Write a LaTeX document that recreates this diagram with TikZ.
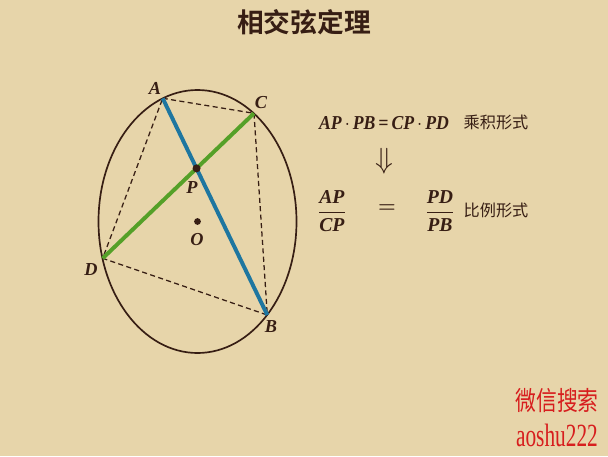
\documentclass[tikz,border=0pt]{standalone}
\usepackage{fontspec}
\setmainfont{Liberation Serif}
\newfontfamily\cjk{Noto Sans CJK SC}
\newfontfamily\cjkbold{Noto Sans CJK SC Bold}
\usepackage{amsmath}
\usetikzlibrary{positioning, calc}

\definecolor{paper}{RGB}{231,213,170}
\definecolor{ink}{RGB}{55,30,20}
\definecolor{chordblue}{RGB}{30,118,160}
\definecolor{chordgreen}{RGB}{85,160,40}
\definecolor{stamp}{RGB}{215,30,30}

\begin{document}
\begin{tikzpicture}[x=0.025cm, y=-0.025cm,
  ptlabel/.style={font=\fontsize{13}{13}\selectfont\itshape\bfseries, text=ink, inner sep=0pt},
  eqtext/.style={font=\fontsize{14}{16}\selectfont, text=ink, inner sep=0pt},
  cntext/.style={font=\cjk\fontsize{11.5}{12}\selectfont, text=ink, inner sep=0pt},
  dashchord/.style={ink, dash pattern=on 3.6pt off 2.4pt, line width=0.9pt},
  redtext/.style={text=stamp, inner sep=0pt}]
% Background
\fill[paper] (0,0) rectangle (608,456);
\useasboundingbox (0,0) rectangle (608,456);

% Title
\node[font=\cjkbold\fontsize{19}{20}\selectfont, text=ink] (title) at (304,22) {相交弦定理};

% Circle and points
\coordinate (O) at (197.5,221.5);
\draw[ink, line width=1.2pt] (O) ellipse [x radius=99, y radius=131.5];
\coordinate (A) at (162.7,98.3);
\coordinate (C) at (254,113.3);
\coordinate (D) at (102.7,258.3);
\coordinate (B) at (267.3,315);
\coordinate (P) at (intersection of A--B and C--D);

% Quadrilateral
\draw[dashchord] (A) -- (C) -- (B) -- (D) -- cycle;

% Chords
\draw[chordblue, line width=2.8pt] (A) -- (B);
\draw[chordgreen, line width=2.8pt] (C) -- (D);
\fill[ink] (P) circle [radius=4];
\fill[ink] (O) circle [radius=3.4];

% Labels
\node[ptlabel] (lA) at (155,88) {A};
\node[ptlabel] (lC) at (261,103) {C};
\node[ptlabel] (lD) at (91,270) {D};
\node[ptlabel] (lB) at (271,327) {B};
\node[ptlabel] (lP) at (192,188) {P};
\node[ptlabel] (lO) at (197,240) {O};

% Product form
\node[eqtext] (prodeq) at (384,123) {\scalebox{0.9}[1]{\itshape\bfseries AP$\,\cdot\,$PB\,=\,CP$\,\cdot\,$PD}};
\node[cntext] (prodlabel) at (496,122) {乘积形式};
\node[eqtext, font=\fontsize{21}{22}\selectfont] (arrowdown) at (384,161) {$\Downarrow$};

% Ratio form
\node[eqtext] (fracleft) at (332,211) {$\dfrac{\textbf{\textit{AP}}}{\textbf{\textit{CP}}}$};
\node[eqtext] (eqsign) at (387,209) {$\boldsymbol{=}$};
\node[eqtext] (fracright) at (440,211) {$\dfrac{\textbf{\textit{PD}}}{\textbf{\textit{PB}}}$};
\node[cntext] (ratiolabel) at (496,210) {比例形式};

% Watermark
\node[redtext, font=\cjk\fontsize{17}{18}\selectfont] (wx) at (557,401) {\scalebox{0.87}[1.1]{微信搜索}};
\node[redtext, font=\fontsize{23}{24}\selectfont] (wid) at (557,435) {\scalebox{0.66}[1]{aoshu222}};
\end{tikzpicture}
\end{document}
